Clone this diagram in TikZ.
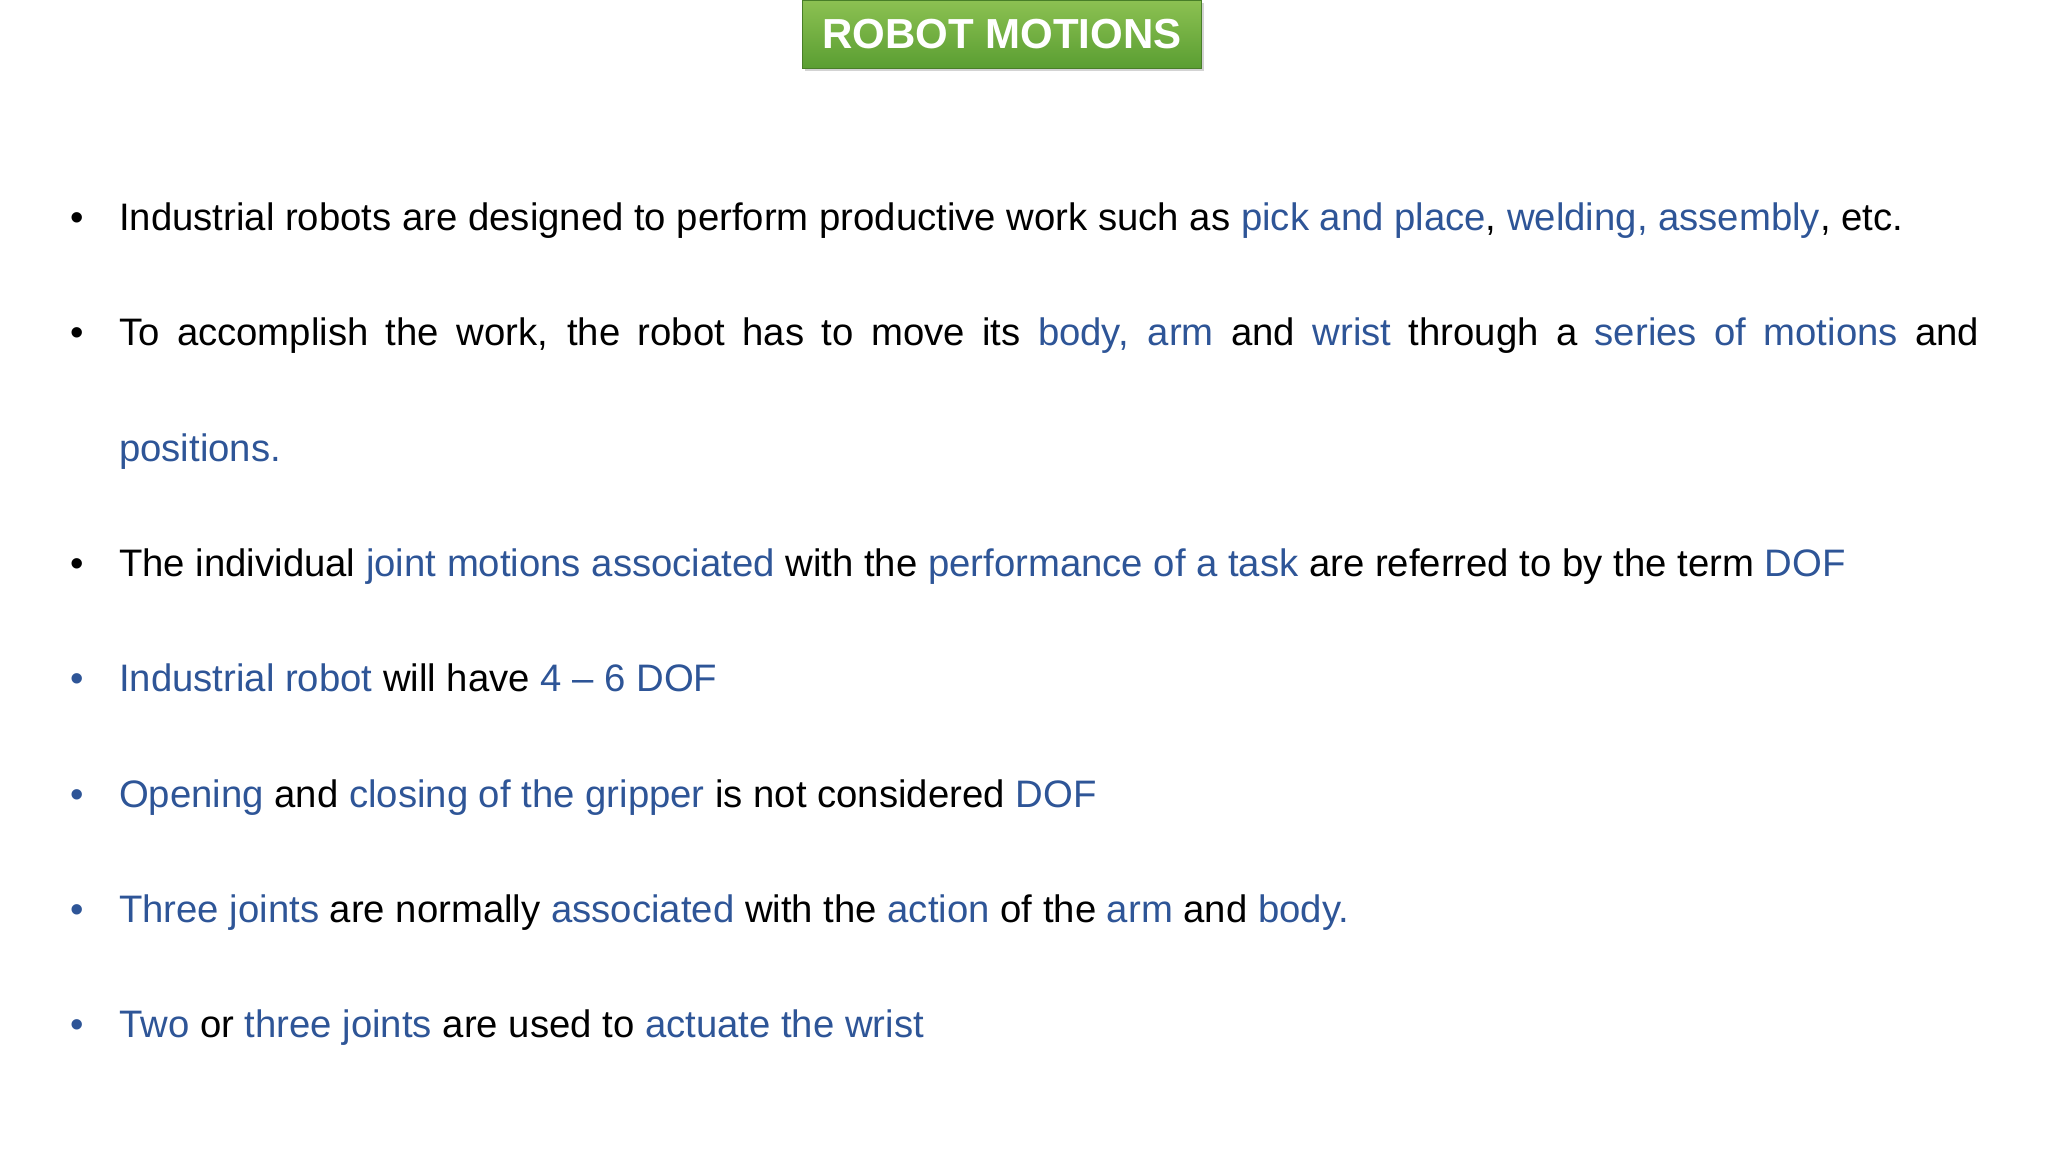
\documentclass[tikz,border=0pt]{standalone}
\usepackage{fontspec}
\setmainfont{Liberation Sans}
\usetikzlibrary{shadows}
\definecolor{bl}{HTML}{2E5597}
\definecolor{gtop}{HTML}{8CC152}
\definecolor{gbot}{HTML}{5A9E32}
\newcommand{\B}[1]{\textcolor{bl}{#1}}
\tikzset{line/.style={anchor=base west,inner sep=0pt,font=\fontsize{38.3}{46}\selectfont},
bul/.style={anchor=base,inner sep=0pt,font=\fontsize{38.3}{46}\selectfont}}
\begin{document}
\begin{tikzpicture}[x=1pt,y=-1pt]
\useasboundingbox (0,0) rectangle (2048,1152);
\node[draw=gbot!80!black,line width=1pt,top color=gtop,bottom color=gbot,drop shadow={opacity=0.35,shadow xshift=2pt,shadow yshift=-3pt},
 minimum width=399pt,minimum height=68pt,inner sep=0pt,text=white,font=\fontsize{42}{50}\selectfont\bfseries] (title) at (1002,34) {ROBOT MOTIONS};
\foreach \y/\c [count=\i] in {230.4/black,345.7/black,576.4/black,691.7/bl,807/bl,922.3/bl,1037.6/bl}
  \node[bul,text=\c] (b\i) at (77,\y) {•};
\node[line] (l1) at (119,230.4) {Industrial robots are designed to perform productive work such as \B{pick and place}, \B{welding, assembly}, etc.};
\node[line] (l2) at (119,345.7) {\makebox[1860pt][s]{To accomplish the work, the robot has to move its \B{body, arm} and \B{wrist} through a \B{series of motions} and}};
\node[line] (l2b) at (119,461) {\B{positions.}};
\node[line] (l3) at (119,576.4) {The individual \B{joint motions associated} with the \B{performance of a task} are referred to by the term \B{DOF}};
\node[line] (l4) at (119,691.7) {\B{Industrial robot} will have \B{4 – 6 DOF}};
\node[line] (l5) at (119,807) {\B{Opening} and \B{closing of the gripper} is not considered \B{DOF}};
\node[line] (l6) at (119,922.3) {\B{Three joints} are normally \B{associated} with the \B{action} of the \B{arm} and \B{body.}};
\node[line] (l7) at (119,1037.6) {\B{Two} or \B{three joints} are used to \B{actuate the wrist}};
\end{tikzpicture}
\end{document}
